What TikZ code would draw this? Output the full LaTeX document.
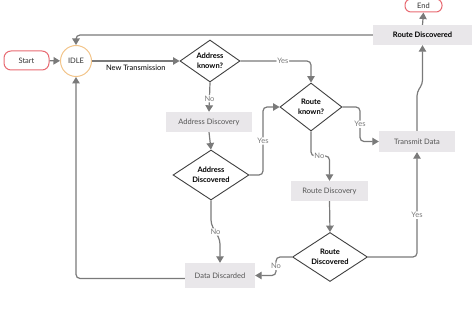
\documentclass[tikz,border=0pt]{standalone}
\usepackage{fontspec}
\setmainfont{Lato}
\usetikzlibrary{shapes.geometric,arrows.meta}
\definecolor{ln}{HTML}{7A7A7A}
\definecolor{boxfill}{HTML}{E9E7EA}
\definecolor{redb}{HTML}{E86A72}
\definecolor{orangeb}{HTML}{F2C48A}
\definecolor{txt}{HTML}{555555}
\tikzset{
  x=1pt,y=-1pt,
  conn/.style={draw=ln,line width=1.2pt,rounded corners=4pt,-{Triangle[width=7.5pt,length=6.5pt]}},
  dia/.style={shape=diamond,draw=black!75,line width=0.9pt,fill=white,inner sep=0pt},
  dtext/.style={font=\fontsize{7.5}{10}\selectfont\bfseries,align=center,text=black,inner sep=0pt},
  pbox/.style={fill=boxfill,draw=none,text=txt,font=\fontsize{7.5}{9}\selectfont,inner sep=0pt},
  term/.style={draw=redb,line width=1pt,rounded corners=7pt,fill=white,text=black!80,font=\fontsize{7.5}{9}\selectfont,inner sep=0pt},
  lab/.style={fill=white,text=ln,font=\fontsize{7.5}{9}\selectfont,inner sep=1pt},
}
\begin{document}
\begin{tikzpicture}
\useasboundingbox (0,0) rectangle (474,310);
% terminals
\node[term,minimum width=45pt,minimum height=19pt] (start) at (26.5,60.5) {Start};
\node[circle,draw=orangeb,line width=1pt,minimum size=31pt,inner sep=0pt,text=black!80,font=\fontsize{7.5}{9}\selectfont] (idle) at (76,61) {IDLE};
\node[term,minimum width=37pt,minimum height=13pt,rounded corners=6pt] (end) at (423.5,5.5) {End};
% diamonds
\node[dia,minimum width=60pt,minimum height=42pt] (ak) at (210,61) {};
\node[dtext] (akt) at (ak) {Address\\known?};
\node[dia,minimum width=76pt,minimum height=50pt] (ad) at (211,175) {};
\node[dtext] (adt) at (ad) {Address\\Discovered};
\node[dia,minimum width=62pt,minimum height=48pt] (rk) at (311,107) {};
\node[dtext] (rkt) at (rk) {Route\\known?};
\node[dia,minimum width=75pt,minimum height=49pt] (rd) at (330,257) {};
\node[dtext] (rdt) at (rd) {Route\\Discovered};
% boxes
\node[pbox,minimum width=86pt,minimum height=20pt] (adisc) at (209,122) {Address Discovery};
\node[pbox,minimum width=70pt,minimum height=25pt] (dd) at (220,275.5) {Data Discarded};
\node[pbox,minimum width=77pt,minimum height=20pt] (rdisc) at (329.5,191) {Route Discovery};
\node[pbox,minimum width=76pt,minimum height=21pt] (td) at (417,141.5) {Transmit Data};
\node[pbox,minimum width=99pt,minimum height=20pt,text=black,font=\fontsize{7.5}{9}\selectfont\bfseries] (rdb) at (422.5,35) {Route Discovered};
% connectors
\draw[conn] (start) -- (idle);
\draw[conn] (idle) -- node[below=3pt,text=black,font=\fontsize{7.5}{9}\selectfont,inner sep=0pt] (nt) {New Transmission} (ak.west);
\draw[conn] (ak.east) -- node[lab,pos=0.6] (y1) {Yes} (311,61) -- (rk.north);
\draw[conn] (ak.south) -- node[lab,pos=0.55] (n1) {No} (adisc.north);
\draw[conn] (adisc.south) -- (ad.north);
\draw[conn] (ad.east) -- (263,175) -- node[lab,pos=0.5] (y2) {Yes} (263,107) -- (rk.west);
\draw[conn] (ad.south) -- (211,224) -- node[lab,pos=0.5] (n2) {No} (220,240) -- (dd.north);
\draw[conn] (rk.east) -- (360,107) -- node[lab,pos=0.5] (y3) {Yes} (360,141.5) -- (td.west);
\draw[conn] (rk.south) -- (311,156) -- node[lab,pos=0.45] (n3) {No} (329.5,156) -- (rdisc.north);
\draw[conn] (rdisc.south) -- (rd.north);
\draw[conn] (rd.east) -- (417,257) -- node[lab,pos=0.4] (y4) {Yes} (td.south);
\draw[conn] (rd.west) -- (276,257) -- node[lab,pos=0.5] (n4) {No} (276,275.5) -- (dd.east);
\draw[conn] (td.north) -- (417,92) -- (422.5,84) -- (rdb.south);
\draw[conn] (rdb.north) -- (end.south);
\draw[conn] (rdb.west) -- (76,35) -- (idle.north);
\draw[conn] ([yshift=-3pt]dd.west) -- (76,278.5) -- (idle.south);
\end{tikzpicture}
\end{document}
